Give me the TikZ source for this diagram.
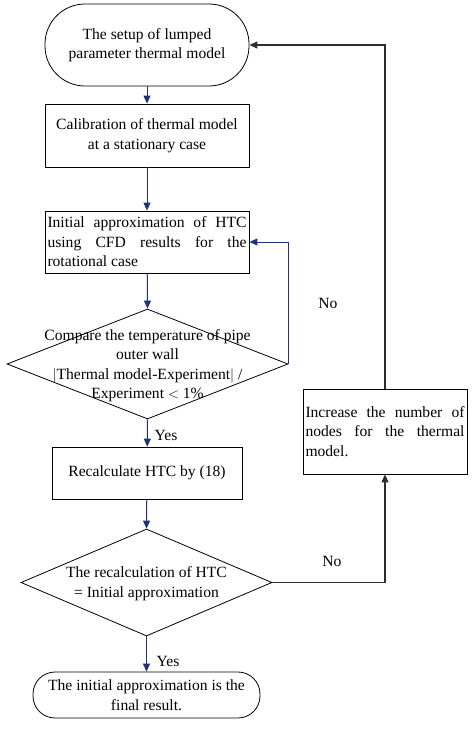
\documentclass[tikz,border=0pt]{standalone}
\usepackage{fontspec}
\setmainfont{Liberation Serif}
\usetikzlibrary{arrows.meta,positioning,calc,shapes.geometric}
\definecolor{flowblue}{RGB}{31,52,120}
\definecolor{loopgray}{RGB}{45,45,45}
\hyphenpenalty=10000
\exhyphenpenalty=10000

\begin{document}
\begin{tikzpicture}[x=1pt,y=-1pt,>={Triangle[length=8pt,width=7pt]},
  every node/.style={font=\fontsize{15.6}{19.5}\selectfont,inner sep=2pt},
  terminal/.style={draw,line width=0.8pt,rounded corners=#1,align=center},
  procbox/.style={draw,line width=0.8pt,minimum width=204pt},
  decision/.style={draw,line width=0.8pt,diamond,inner sep=0pt},
  flow/.style={->,flowblue,line width=1pt},
  back/.style={->,loopgray,line width=1.2pt}]
  \useasboundingbox (0,0) rectangle (474,731);
  % main column
  \node[terminal=40pt,minimum width=204pt,minimum height=82pt] (setup) at (147,45)
    {The setup of lumped\\parameter thermal model};
  \node[procbox,minimum height=63pt,align=center] (calib) at (147,135.5)
    {Calibration of thermal model\\at a stationary case};
  \node[procbox,minimum height=62pt,text width=199pt,align=justify] (approx) at (147,242)
    {Initial approximation of HTC using CFD results for the rotational case};
  \node[decision,minimum width=281pt,minimum height=110pt] (cmp) at (147.5,364) {};
  \node[align=center] (cmptext) at (147.5,365.5)
    {Compare the temperature of pipe\\outer wall\\$|$Thermal model-Experiment$|$ /\\Experiment $<$ 1\%};
  \node[procbox,minimum width=190pt,minimum height=52pt] (recalc) at (147,473)
    {Recalculate HTC by (18)};
  \node[decision,minimum width=251pt,minimum height=107pt] (equal) at (146.5,582.5) {};
  \node[align=center] (equaltext) at (146.5,583.5)
    {The recalculation of HTC\\= Initial approximation};
  \node[terminal=22pt,minimum width=227pt,minimum height=46pt] (final) at (146.5,695)
    {The initial approximation is the\\final result.};
  % right branch
  \node[procbox,minimum width=164pt,minimum height=85pt,text width=159pt,align=justify] (incr) at (385,431.5)
    {Increase the number of nodes for the thermal model.};
  % connectors
  \draw[flow] (setup) -- (calib);
  \draw[flow] (calib) -- (approx);
  \draw[flow] (approx) -- (cmp.north);
  \draw[flow] (cmp.east) -- (cmp.east |- approx.east) -- (approx.east);
  \draw[flow] (cmp.south) -- (recalc);
  \draw[flow] (recalc) -- (equal.north);
  \draw[flow] (equal.south) -- (final);
  \draw[back] (equal.east) -- (incr.south |- equal.east) -- (incr.south);
  \draw[back] (incr.north) -- (incr.north |- setup.east) -- (setup.east);
  % labels
  \node (no1) at (328,303) {No};
  \node (no2) at (332,561) {No};
  \node (yes1) at (166,435) {Yes};
  \node (yes2) at (168,661) {Yes};
\end{tikzpicture}
\end{document}
